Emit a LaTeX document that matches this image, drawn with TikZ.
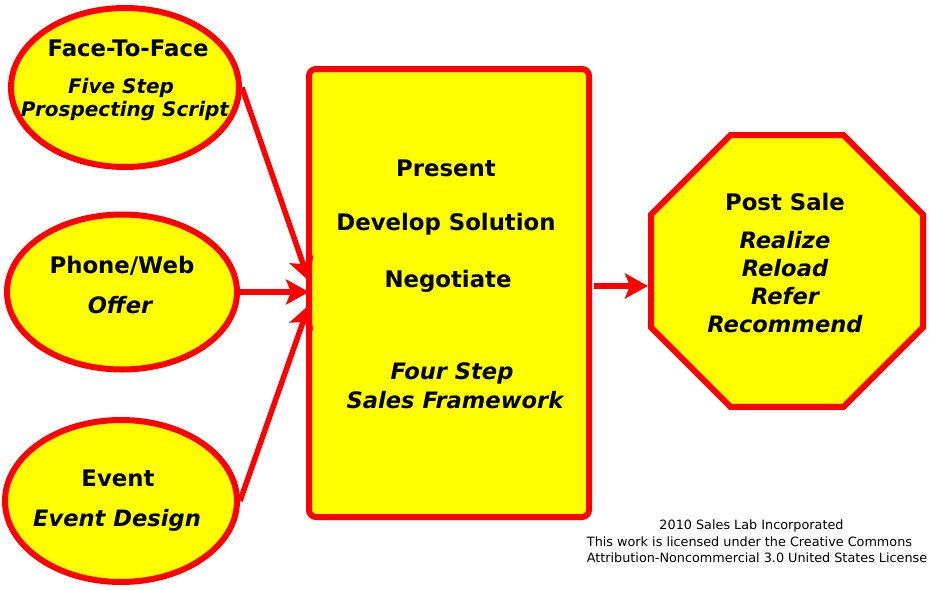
\documentclass[tikz,border=0pt]{standalone}
\usepackage{fontspec}
\setmainfont{DejaVu Sans}
\usetikzlibrary{shapes.geometric,arrows.meta}
\definecolor{boxyellow}{RGB}{255,255,0}
\definecolor{boxred}{RGB}{255,0,0}
\tikzset{
  shapebox/.style={draw=boxred, fill=boxyellow, line width=6pt, inner sep=0pt},
  oval/.style={shapebox, ellipse},
  head/.style={font=\fontsize{22.8}{26}\selectfont\bfseries, inner sep=0pt, anchor=center},
  sub/.style={font=\fontsize{22.6}{26}\selectfont\bfseries\itshape, inner sep=0pt, anchor=center},
  smallsub/.style={font=\fontsize{20}{24}\selectfont\bfseries\itshape, inner sep=0pt, anchor=center},
  note/.style={font=\fontsize{12.8}{16}\selectfont, inner sep=0pt, anchor=center},
  arr/.style={draw=boxred, line width=5.5pt, -{Stealth[length=23pt,width=25pt,inset=5pt]}}
}
\begin{document}
\begin{tikzpicture}[x=1pt,y=-1pt]
\useasboundingbox (0,0) rectangle (929,589);
% ellipses
\node[oval, minimum width=228pt, minimum height=159pt] (e1) at (125,87.5) {};
\node[oval, minimum width=230pt, minimum height=155pt] (e2) at (122,292) {};
\node[oval, minimum width=232pt, minimum height=162pt] (e3) at (121,501) {};
% central box
\node[shapebox, rectangle, rounded corners=7pt, minimum width=280pt, minimum height=448pt] (r) at (449,293) {};
% octagon
\node[shapebox, regular polygon, regular polygon sides=8, minimum size=294.4pt] (o) at (787,271) {};
% texts ellipse 1
\node[head] (t11) at (128,48) {Face-To-Face};
\node[smallsub] (t12) at (121,88) {Five Step};
\node[smallsub] (t13) at (125,111) {Prospecting Script};
% ellipse 2
\node[head] (t21) at (122,266) {Phone/Web};
\node[sub] (t22) at (120,305) {Offer};
% ellipse 3
\node[head] (t31) at (118,478) {Event};
\node[sub] (t32) at (117,520) {Event Design};
% box
\node[head] (r1) at (446,168) {Present};
\node[head] (r2) at (446,224) {Develop Solution};
\node[head] (r3) at (448,281) {Negotiate};
\node[sub] (r4) at (452,373) {Four Step};
\node[sub] (r5) at (455,400) {Sales Framework};
% octagon
\node[head] (o1) at (785,202) {Post Sale};
\node[sub] (o2) at (785,240) {Realize};
\node[sub] (o3) at (785,268) {Reload};
\node[sub] (o4) at (785,296) {Refer};
\node[sub] (o5) at (785,324) {Recommend};
% footer
\node[note] (f1) at (751.5,526) {2010 Sales Lab Incorporated};
\node[note] (f2) at (749.5,542) {This work is licensed under the Creative Commons};
\node[note] (f3) at (757,558) {Attribution-Noncommercial 3.0 United States License};
% arrows
\coordinate (a1) at (309,281);
\coordinate (a2) at (309,292);
\coordinate (a3) at (309,305);
\coordinate (s4) at (594,286);
\draw[arr] (e1.east) -- (a1);
\draw[arr] (e2.east) -- (a2);
\draw[arr] (e3.east) -- (a3);
\draw[arr] (s4) -- (s4 -| o.west);
\end{tikzpicture}
\end{document}
